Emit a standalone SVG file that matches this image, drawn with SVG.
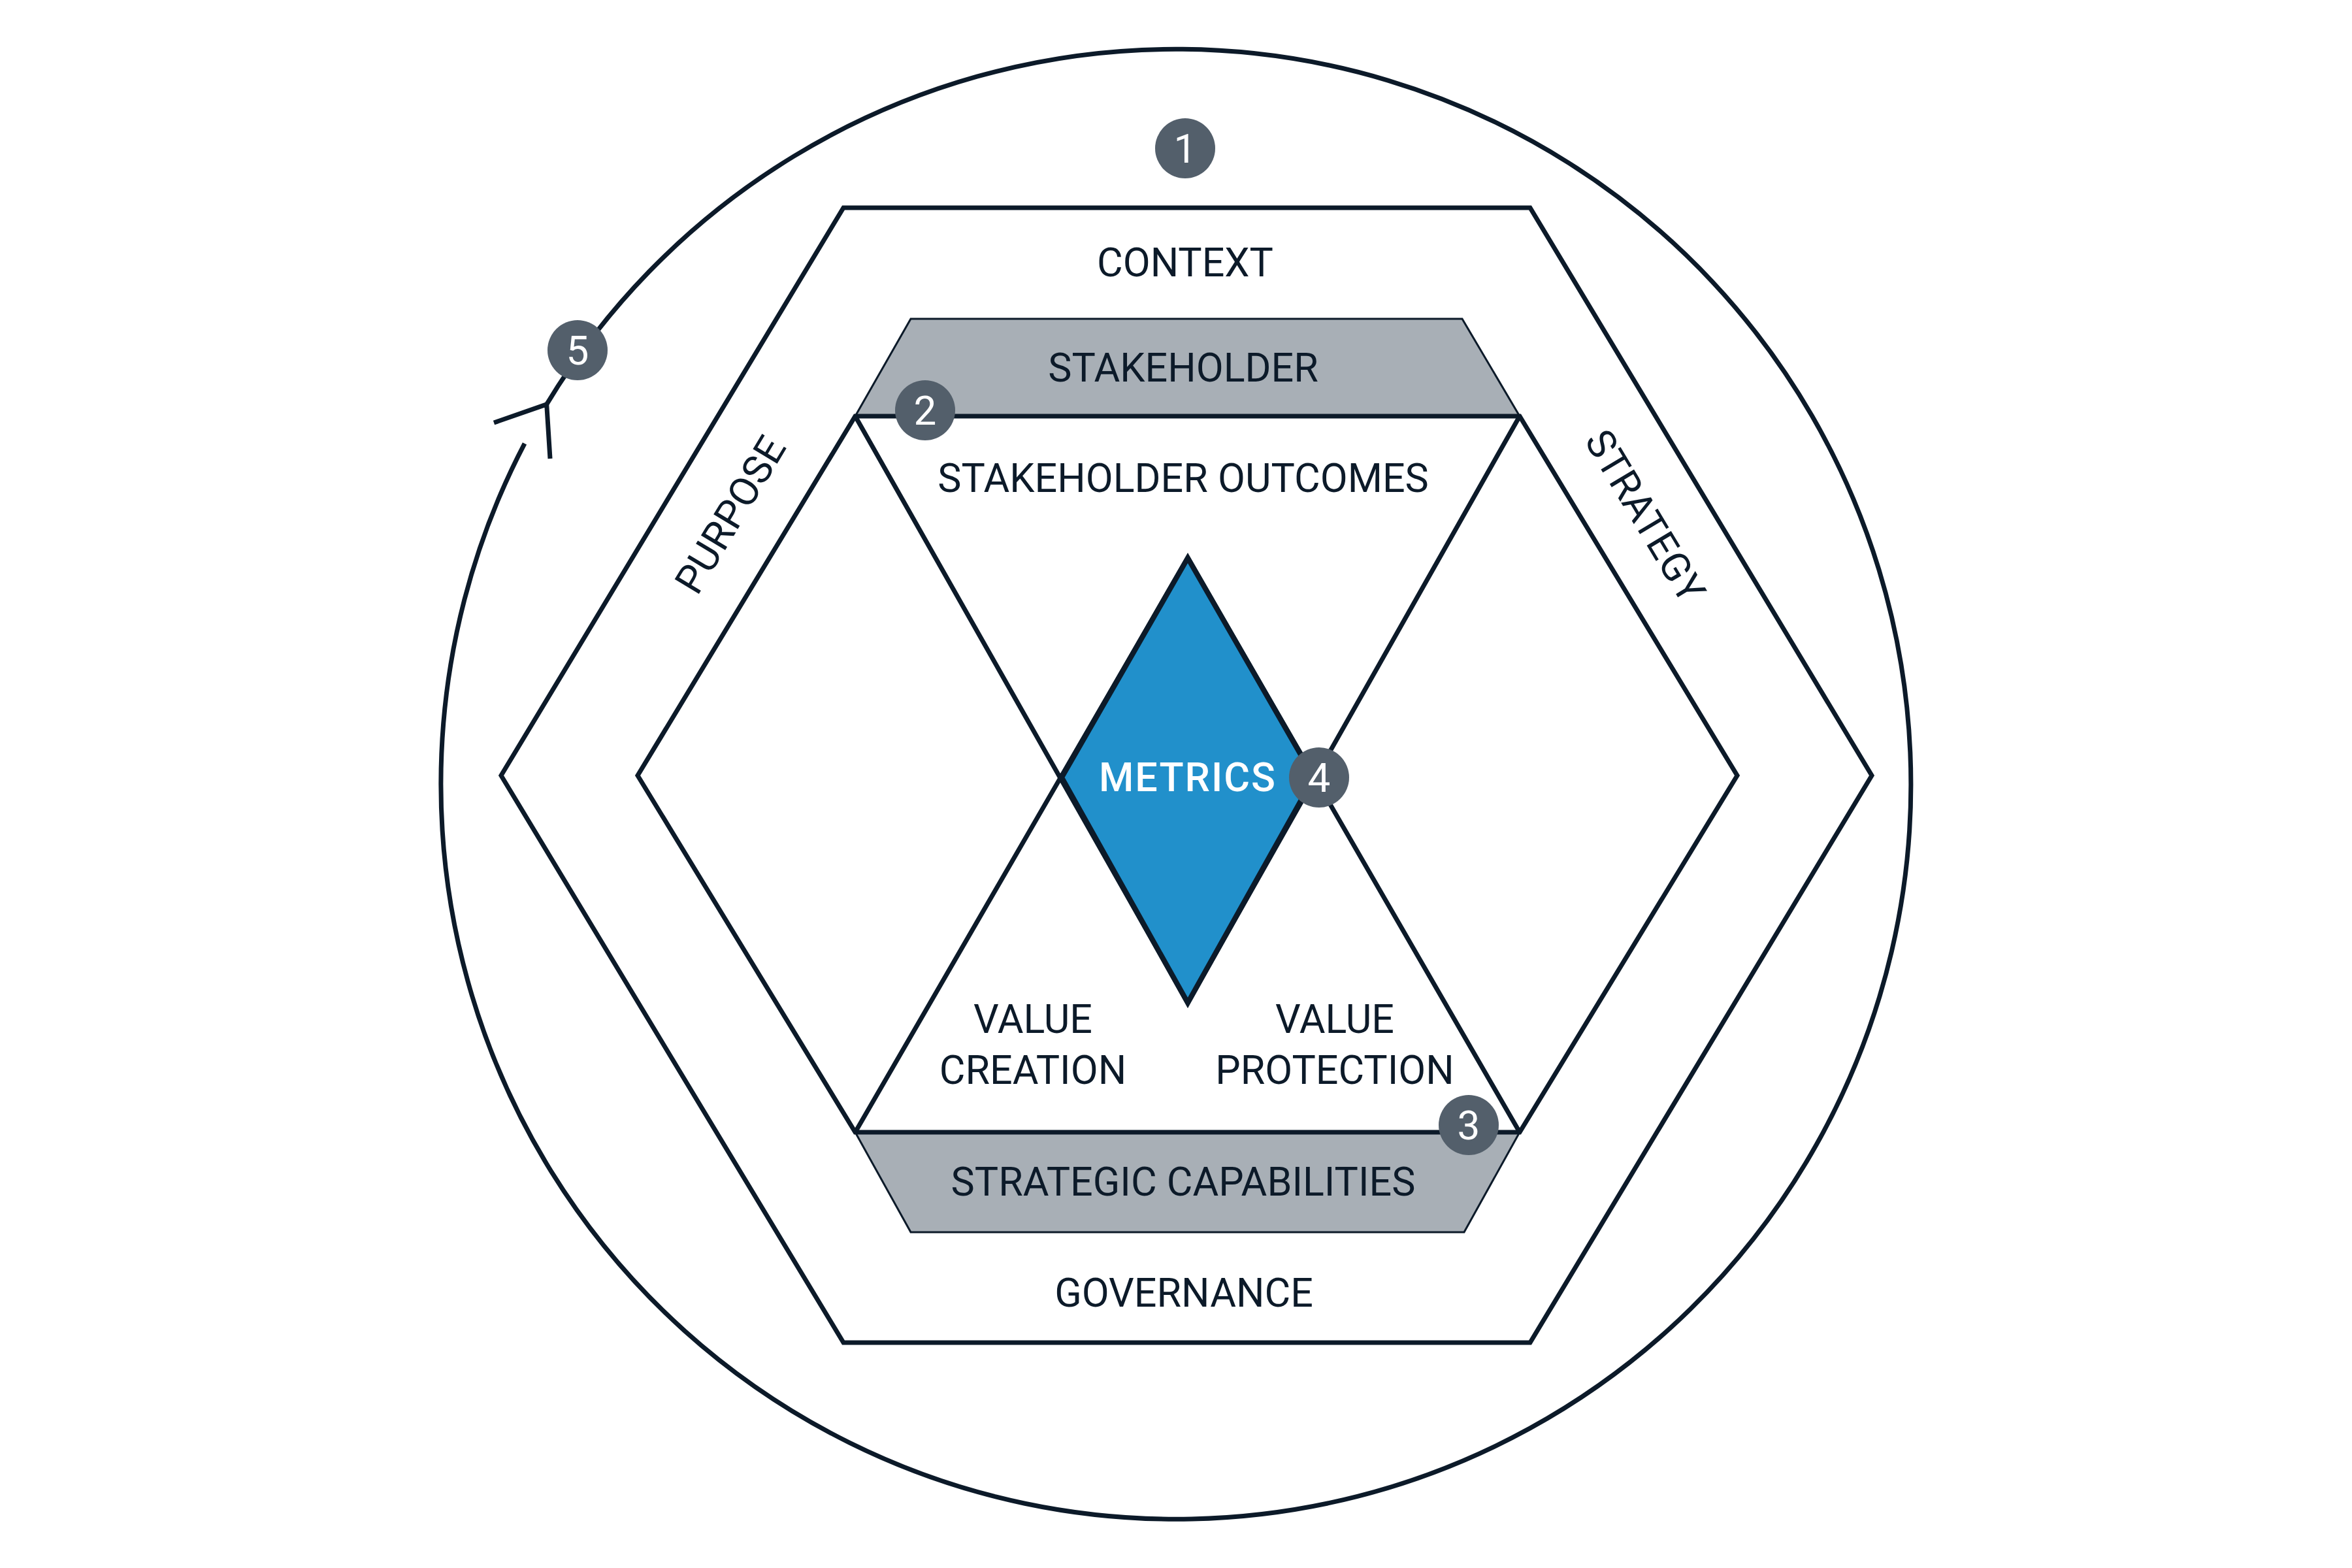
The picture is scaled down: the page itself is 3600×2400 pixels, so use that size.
<svg xmlns="http://www.w3.org/2000/svg" width="3600" height="2400" viewBox="0 0 3600 2400">
  <style>
    .ln { fill: none; stroke: #0c1a29; stroke-width: 7; stroke-linejoin: miter; }
    .band { fill: #a8afb6; stroke: #0c1a29; stroke-width: 3; }
    .lbl { font-family: Roboto, "Liberation Sans", sans-serif; font-size: 61px; fill: #0c1a29; text-anchor: middle; }
    .badge circle { fill: #535f6b; }
    .badge text { font-family: Roboto, "Liberation Sans", sans-serif; font-size: 62px; fill: #ffffff; text-anchor: middle; }
  </style>
  <rect width="3600" height="2400" fill="#ffffff"/>

  <g id="connectors">
    <path class="ln" d="M 836.7 618.9 A 1125 1125 0 1 1 803 678.8"/>
    <polyline class="ln" points="756,647 836.7,618.9 842,702"/>
  </g>

  <g id="stakeholder-band">
    <polygon class="band" points="1394,488 2238,488 2326,637 1309,637"/>
    <text class="lbl" x="1811" y="584">STAKEHOLDER</text>
  </g>

  <g id="strategic-band">
    <polygon class="band" points="1309,1733 2326,1733 2241,1886 1394,1886"/>
    <text class="lbl" x="1811" y="1830">STRATEGIC CAPABILITIES</text>
  </g>

  <g id="outer-hexagon">
    <polygon class="ln" points="1291,318 2342,318 2865,1187 2342,2055 1291,2055 767,1187"/>
    <text class="lbl" x="1814" y="423">CONTEXT</text>
    <text class="lbl" x="1812" y="2000">GOVERNANCE</text>
    <text class="lbl" font-size="58" transform="translate(1118,788) rotate(-59)" y="21">PURPOSE</text>
    <text class="lbl" font-size="58" transform="translate(2518,790) rotate(59)" y="21">STRATEGY</text>
  </g>

  <g id="inner-hexagon">
    <polygon class="ln" points="1309,637 2326,637 2659,1187 2326,1733 1309,1733 976,1187"/>
  </g>

  <g id="stakeholder-outcomes">
    <polyline class="ln" stroke-width="6" points="1309,637 1818,1535 2326,637"/>
    <text class="lbl" x="1811" y="753">STAKEHOLDER OUTCOMES</text>
  </g>

  <g id="value-triangle">
    <polyline class="ln" stroke-width="6" points="1309,1733 1818,854 2326,1733"/>
    <text class="lbl" x="1581" y="1581">VALUE</text>
    <text class="lbl" x="1581" y="1659">CREATION</text>
    <text class="lbl" x="2043" y="1581">VALUE</text>
    <text class="lbl" x="2043" y="1659">PROTECTION</text>
  </g>

  <g id="metrics">
    <polygon fill="#2190cb" stroke="#0c1a29" stroke-width="8" stroke-linejoin="miter" points="1818,854 2011,1190 1818,1535 1625,1190"/>
    <text class="lbl" x="1818" y="1211" font-weight="500" letter-spacing="2" style="fill:#ffffff">METRICS</text>
  </g>

  <g id="badge-1" class="badge"><circle cx="1814" cy="227" r="46"/><text x="1814" y="249">1</text></g>
  <g id="badge-2" class="badge"><circle cx="1416" cy="628" r="46"/><text x="1416" y="650">2</text></g>
  <g id="badge-3" class="badge"><circle cx="2248" cy="1722" r="46"/><text x="2248" y="1744">3</text></g>
  <g id="badge-4" class="badge"><circle cx="2019" cy="1190" r="46"/><text x="2019" y="1212">4</text></g>
  <g id="badge-5" class="badge"><circle cx="884" cy="536" r="46"/><text x="884" y="558">5</text></g>
</svg>
